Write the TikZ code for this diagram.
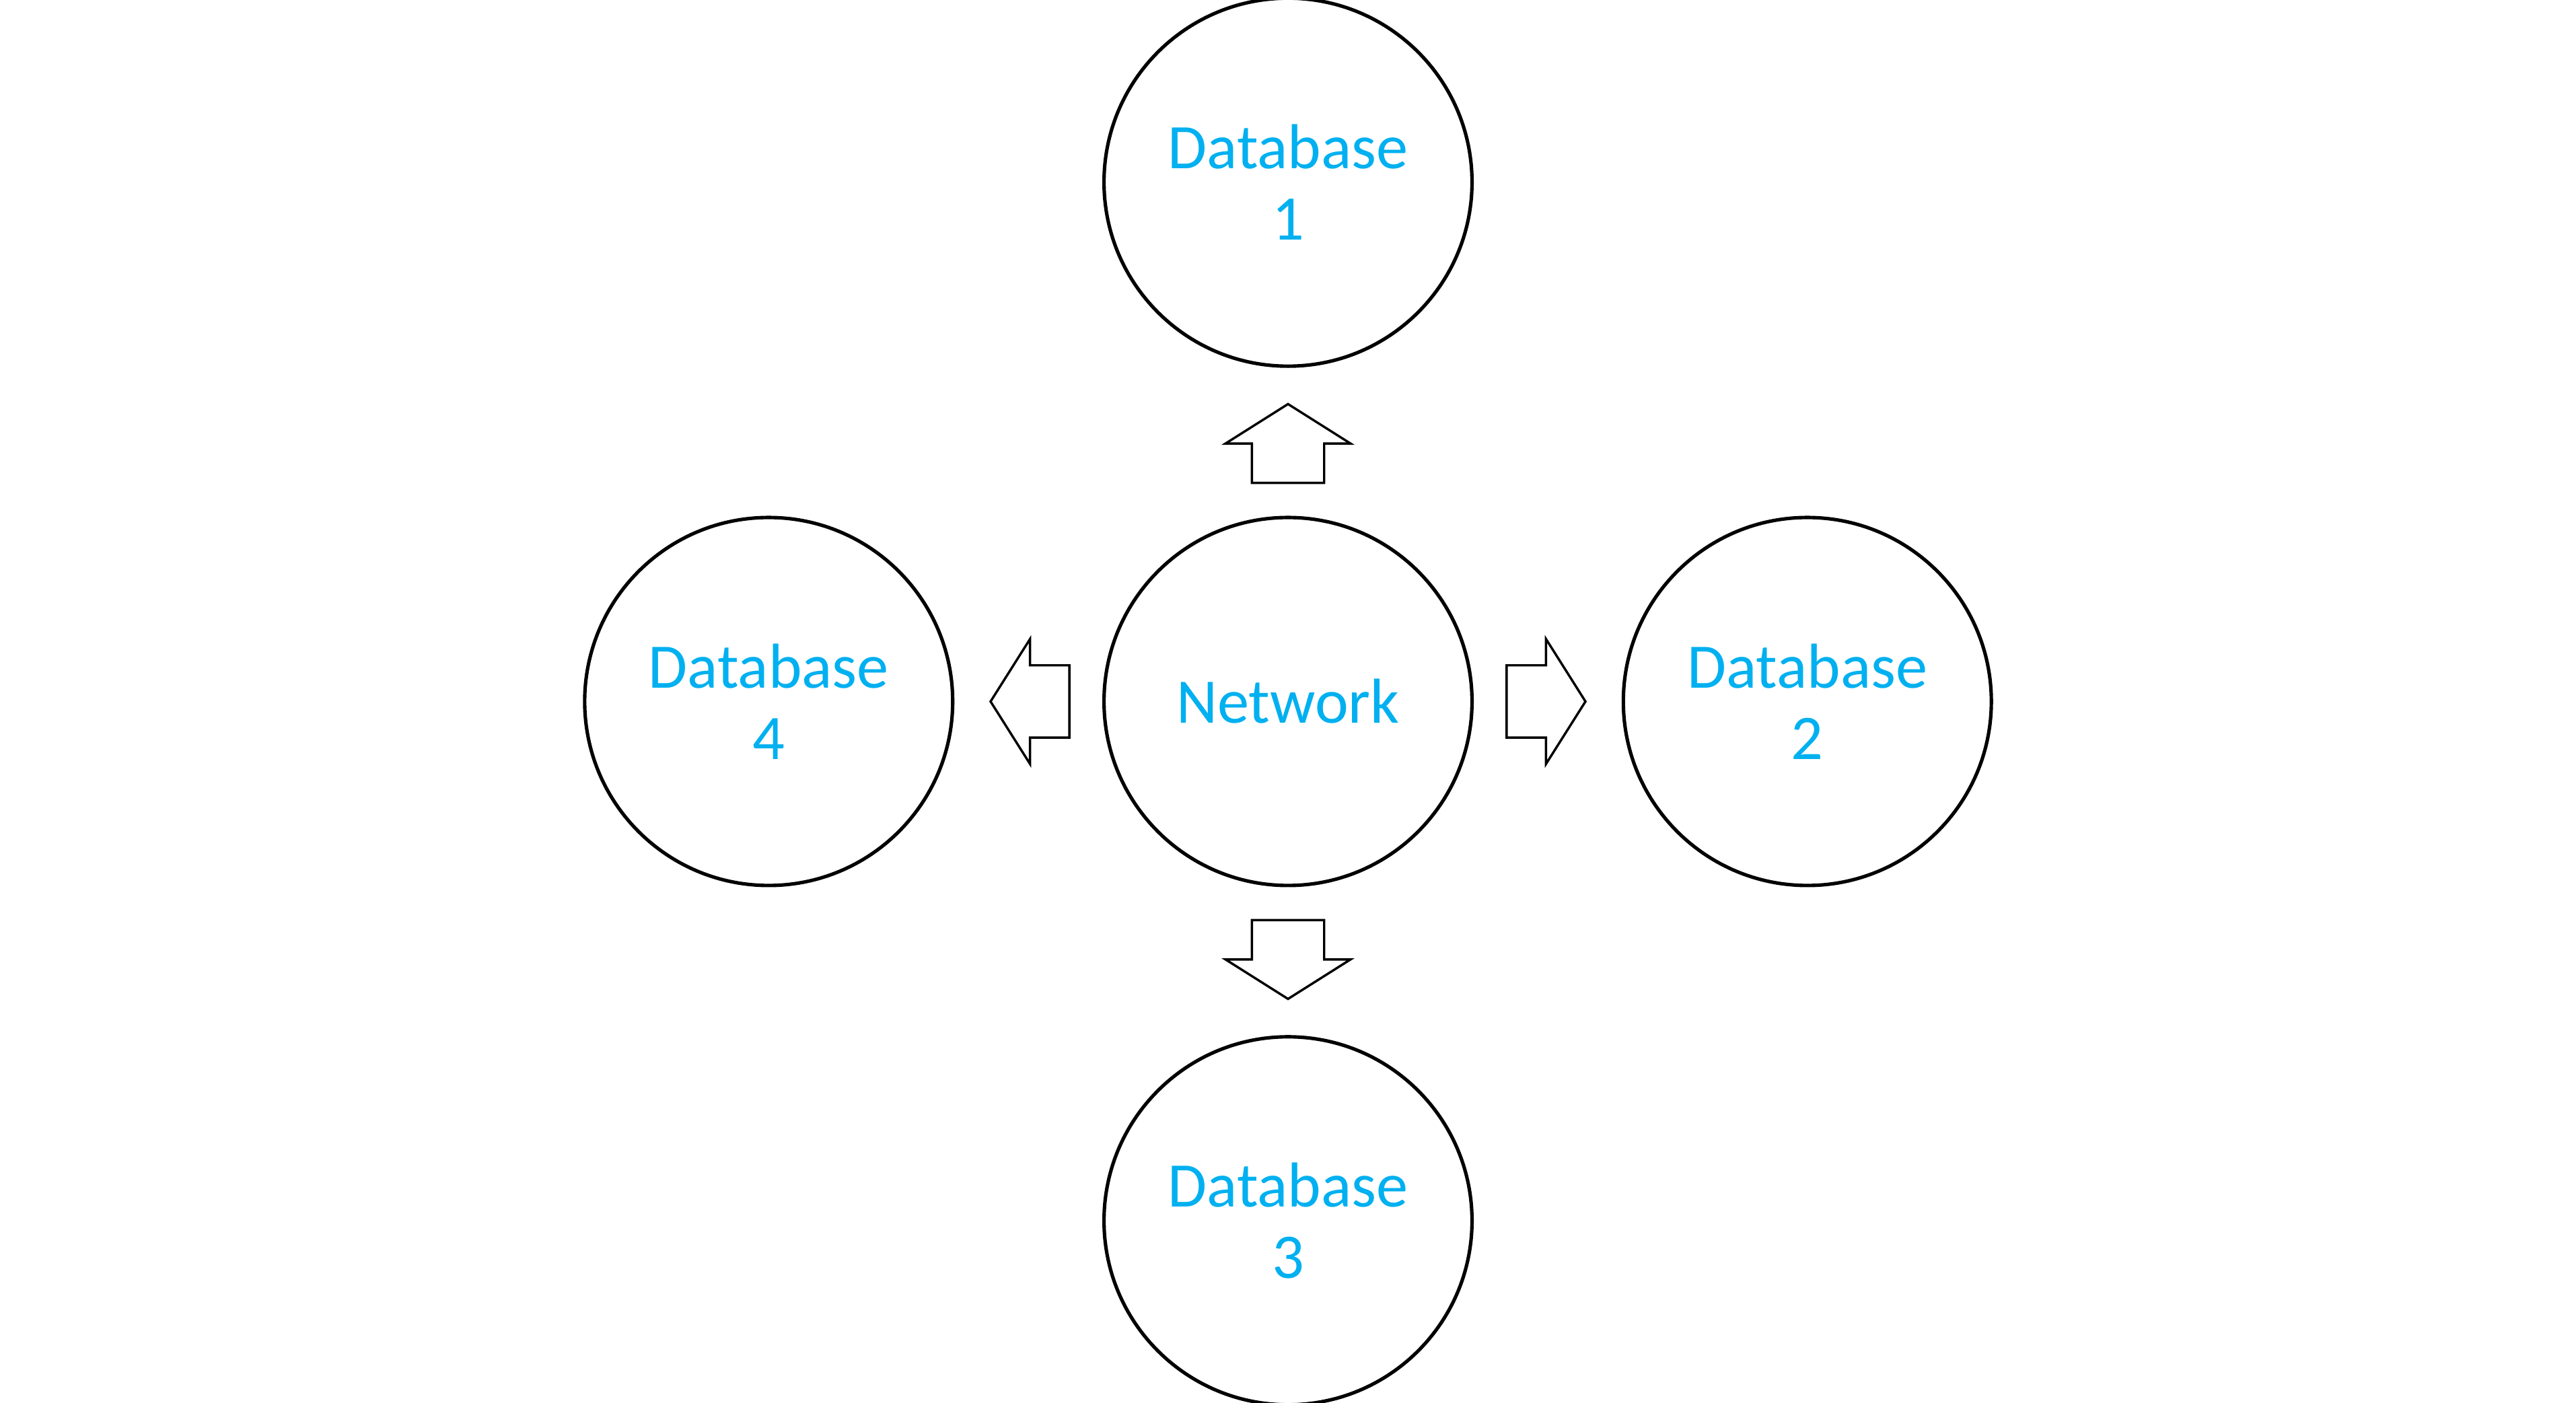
\documentclass[tikz,border=0pt]{standalone}
\usepackage{fontspec}
\setmainfont{Carlito}
\usetikzlibrary{positioning,calc}
\definecolor{dbblue}{RGB}{0,176,240}
\tikzset{
  db/.style={circle, draw, line width=0.6pt, minimum size=2.24cm, inner sep=0pt,
    align=center, text=dbblue, font=\fontsize{11}{12.4}\selectfont},
  fatarrow/.style={draw, line width=0.4pt, fill=white}
}
\newcommand{\fatarrowat}[2]{%
  \draw[fatarrow, shift={(#1)}, rotate=#2]
    (-0.22,0) -- (-0.22,0.24) -- (-0.38,0.24) -- (0,0.48) -- (0.38,0.24)
    -- (0.22,0.24) -- (0.22,0) -- cycle;}
\begin{document}
\begin{tikzpicture}
\useasboundingbox (0,0) rectangle (15.68,-8.54);
\node[db] (net) at (7.84,-4.27) {Network};
\node[db, above=0.9cm of net] (db1) {Database\\1};
\node[db, right=0.9cm of net] (db2) {Database\\2};
\node[db, below=0.9cm of net] (db3) {Database\\3};
\node[db, left=0.9cm of net] (db4) {Database\\4};
% arrows out of the network
\fatarrowat{$(net.north)+(0,0.2)$}{0}
\fatarrowat{$(net.east)+(0.2,0)$}{-90}
\fatarrowat{$(net.south)+(0,-0.2)$}{180}
\fatarrowat{$(net.west)+(-0.2,0)$}{90}
\end{tikzpicture}
\end{document}
